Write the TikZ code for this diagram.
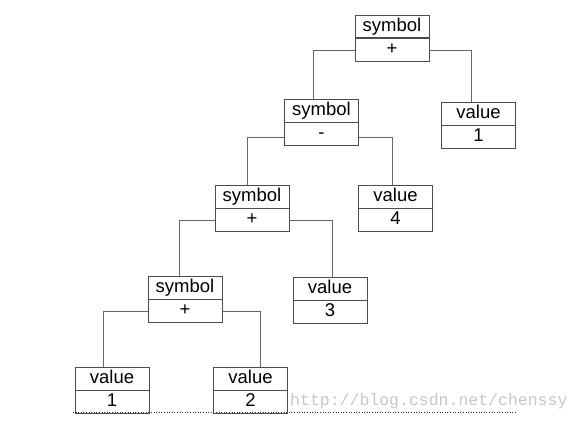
\documentclass[tikz,border=0pt]{standalone}
\usepackage{fontspec}
\setmainfont{Liberation Sans}
\newfontfamily\wmfont{Liberation Mono}
\begin{document}
\begin{tikzpicture}[x=1pt,y=-1pt,
  half/.style={draw=black!70,line width=0.9pt,minimum width=74pt,minimum height=22.5pt,inner sep=0pt,
    text height=13.3pt,text depth=3.9pt,font=\fontsize{18.5}{20}\selectfont},
  link/.style={draw=black!60,line width=0.9pt}]
\useasboundingbox (0,0) rectangle (583,420);
% boxes
\node[half,anchor=north] (A1) at (392,15) {symbol};
\node[half,anchor=north] (A2) at (A1.south) {+};
\node[half,anchor=north] (B1) at (321.5,99) {symbol};
\node[half,anchor=north] (B2) at (B1.south) {-};
\node[half,anchor=north] (C1) at (478.5,102) {value};
\node[half,anchor=north] (C2) at (C1.south) {1};
\node[half,anchor=north] (D1) at (252,185) {symbol};
\node[half,anchor=north] (D2) at (D1.south) {+};
\node[half,anchor=north] (E1) at (395.5,185) {value};
\node[half,anchor=north] (E2) at (E1.south) {4};
\node[half,anchor=north] (F1) at (185,276) {symbol};
\node[half,anchor=north] (F2) at (F1.south) {+};
\node[half,anchor=north] (G1) at (330,277) {value};
\node[half,anchor=north] (G2) at (G1.south) {3};
\node[half,anchor=north] (H1) at (112,367) {value};
\node[half,anchor=north] (H2) at (H1.south) {1};
\node[half,anchor=north] (I1) at (250.5,367) {value};
\node[half,anchor=north] (I2) at (I1.south) {2};
% connectors
\draw[link] (A2.west) -| ([xshift=-8.5pt]B1.north);
\draw[link] (A2.east) -| ([xshift=-7.5pt]C1.north);
\draw[link] ([yshift=-3pt]B2.west) -| ([xshift=-5pt]D1.north);
\draw[link] ([yshift=-3pt]B2.east) -| ([xshift=-3.5pt]E1.north);
\draw[link] (D2.west) -| ([xshift=-6pt]F1.north);
\draw[link] (D2.east) -| ([xshift=2pt]G1.north);
\draw[link] (F2.west) -| ([xshift=-9pt]H1.north);
\draw[link] (F2.east) -| ([xshift=9.5pt]I1.north);
% watermark and dotted line
\node[anchor=base west,inner sep=0pt,text=black!22,font=\wmfont\fontsize{16.5}{18}\selectfont] (wm) at (290,405) {http://blog.csdn.net/chenssy};
\coordinate (d1) at (73,412.7);
\coordinate (d2) at (517,412.7);
\draw[black!80,line width=0.6pt,dotted] (d1) -- (d2);
\end{tikzpicture}
\end{document}
